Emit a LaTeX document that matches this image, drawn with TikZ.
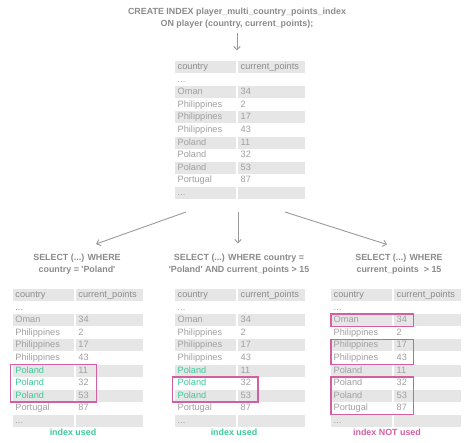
\documentclass[tikz,border=0pt]{standalone}
\usepackage{fontspec}
\setmainfont{Liberation Sans}
\usetikzlibrary{arrows.meta}
\definecolor{titlegray}{HTML}{8A8A8A}
\definecolor{celltext}{HTML}{A0A0A0}
\definecolor{headtext}{HTML}{8C8C8C}
\definecolor{cellfill}{HTML}{E6E6E6}
\definecolor{mint}{HTML}{3CC99A}
\definecolor{pinkline}{HTML}{D45FA0}
\definecolor{arrowgray}{HTML}{9A9A9A}
\newcommand\dbdots{...}
\tikzset{
  titletext/.style={text=titlegray, align=center, inner sep=0pt,
    font=\fontsize{8.9}{12.3}\selectfont\bfseries},
  cellbase/.style={inner xsep=2.5pt, inner ysep=0pt, minimum height=12pt,
    text height=6.8pt, text depth=2pt, align=left, anchor=west, text=celltext,
    font=\fontsize{9.2}{11}\selectfont},
  ccell/.style={cellbase, text width=56pt},
  pcell/.style={cellbase, text width=62pt},
  row0c/.style={text=headtext}, row0p/.style={text=headtext},
  row1c/.style={}, row1p/.style={}, row2c/.style={}, row2p/.style={},
  row3c/.style={}, row3p/.style={}, row4c/.style={}, row4p/.style={},
  row5c/.style={}, row5p/.style={}, row6c/.style={}, row6p/.style={},
  row7c/.style={}, row7p/.style={}, row8c/.style={}, row8p/.style={},
  row9c/.style={}, row9p/.style={}, row10c/.style={}, row10p/.style={},
  pinkbox/.style={draw=pinkline, line width=1.1pt},
  arr/.style={draw=arrowgray, line width=0.9pt, -{Straight Barb[length=3.5pt,width=6.5pt]}},
  usedlabel/.style={inner sep=0pt, font=\fontsize{8.9}{11}\selectfont\bfseries}
}
\newcommand\dbtable[3]{%
  \foreach \i/\c/\p in {0/country/current\_points,1/\dbdots/,2/Oman/34,3/Philippines/2,4/Philippines/17,5/Philippines/43,6/Poland/11,7/Poland/32,8/Poland/53,9/Portugal/87,10/\dbdots/}{
    \pgfmathtruncatemacro\odd{mod(\i,2)}
    \ifnum\odd=0 \def\cf{cellfill}\else\def\cf{white}\fi
    \node[ccell, fill=\cf, row\i c] (#1-c\i) at (#2, {#3+12.6*\i}) {\c};
    \node[pcell, fill=\cf, row\i p] (#1-p\i) at (#2+63, {#3+12.6*\i}) {\p};
  }%
}
\begin{document}
\begin{tikzpicture}[x=1pt, y=-1pt]
\useasboundingbox (0,0) rectangle (474,442);

% title
\node[titletext] (title) at (237,18) {CREATE INDEX player\_multi\_country\_points\_index\\ON player (country, current\_points);};

% top table
\begin{scope}
\dbtable{T}{175}{67}
\end{scope}

% arrows
\coordinate (topS) at (237,33);
\coordinate (topE) at (237,50.5);
\draw[arr] (topS) -- (topE);
\coordinate (aLs) at (186,212);
\coordinate (aLe) at (96,244);
\coordinate (aMs) at (238,212);
\coordinate (aMe) at (238,243.5);
\coordinate (aRs) at (285,212);
\coordinate (aRe) at (387,244.5);
\draw[arr] (aLs) -- (aLe);
\draw[arr] (aMs) -- (aMe);
\draw[arr] (aRs) -- (aRe);

% query labels
\node[titletext] (qL) at (77,264.2) {SELECT (...) WHERE\\country = \textquotesingle Poland\textquotesingle};
\node[titletext] (qM) at (239,264.4) {SELECT (...) WHERE country =\\\textquotesingle Poland\textquotesingle\ AND current\_points > 15};
\node[titletext] (qR) at (399,264.2) {SELECT (...) WHERE\\current\_points\ \ > 15};

% left table
\begin{scope}
\tikzset{row6c/.style={text=mint}, row7c/.style={text=mint}, row8c/.style={text=mint}}
\dbtable{L}{12.7}{295}
\end{scope}
\draw[pinkbox] ([xshift=-2pt]L-c6.north west) rectangle ([xshift=21pt]L-p8.south west);
\node[usedlabel, text=mint] (uL) at (73,432.7) {index used};

% middle table
\begin{scope}
\tikzset{row6c/.style={text=mint}, row7c/.style={text=mint}, row8c/.style={text=mint}}
\dbtable{M}{175}{295}
\end{scope}
\draw[pinkbox] ([xshift=-2.5pt]M-c7.north west) rectangle ([xshift=20pt]M-p8.south west);
\node[usedlabel, text=mint] (uM) at (234,432.7) {index used};

% right table
\begin{scope}
\dbtable{R}{331}{295}
\end{scope}
\draw[pinkbox] ([xshift=0pt]R-c2.north west) rectangle ([xshift=19.5pt]R-p2.south west);
\draw[pinkbox] ([xshift=0pt]R-c4.north west) rectangle ([xshift=19.5pt]R-p5.south west);
\draw[pinkbox] ([xshift=0pt]R-c7.north west) rectangle ([xshift=19.5pt]R-p9.south west);
\node[usedlabel, text=pinkline] (uR) at (387,432.7) {index NOT used};
\end{tikzpicture}
\end{document}
